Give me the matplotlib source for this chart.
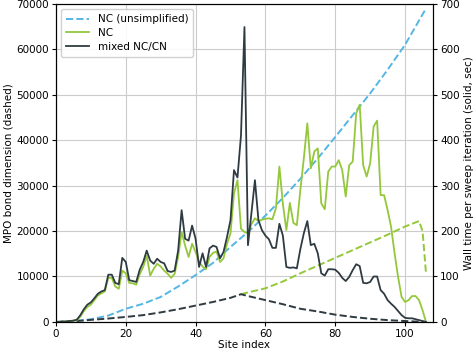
import matplotlib
matplotlib.use("Agg")
import matplotlib.pyplot as plt
import numpy as np

# --- data ---
sites = list(range(0, 107))
nc_time = [0, 0, 1, 1, 2, 2, 4, 12, 24, 33, 38, 48, 58, 63, 67, 97, 97, 78, 73, 113,
           107, 86, 85, 82, 105, 121, 146, 102, 117, 128, 122, 113, 106, 97, 106, 143,
           198, 168, 143, 172, 154, 132, 122, 116, 143, 152, 155, 132, 140, 172, 195,
           283, 312, 205, 198, 195, 215, 228, 222, 225, 227, 228, 226, 250, 342, 260,
           202, 262, 218, 213, 290, 360, 437, 338, 375, 382, 261, 248, 331, 342, 342,
           356, 334, 276, 345, 353, 459, 478, 345, 320, 349, 430, 443, 279, 279, 246,
           209, 151, 99, 55, 44, 48, 57, 57, 48, 26, 0]
mixed_time = [0, 0, 1, 1, 2, 3, 5, 15, 28, 38, 43, 52, 62, 67, 70, 104, 104, 86, 83, 141,
              132, 92, 90, 88, 115, 132, 157, 135, 128, 139, 132, 129, 112, 110, 113, 157,
              246, 183, 179, 212, 183, 121, 151, 121, 162, 168, 165, 140, 154, 187, 224,
              334, 318, 410, 649, 169, 240, 312, 224, 202, 190, 182, 163, 163, 216, 190,
              121, 119, 120, 118, 160, 195, 222, 169, 172, 151, 107, 102, 116, 116, 115,
              108, 97, 90, 99, 114, 127, 123, 86, 85, 88, 100, 100, 70, 62, 48,
              40, 33, 24, 15, 9, 8, 8, 6, 4, 2, 0]

unsimp_sites = [0, 5, 10, 15, 20, 25, 30, 35, 40, 45, 50, 55, 60, 65, 70, 75, 80, 85, 90, 95, 100, 106]
unsimp_dim = [0, 150, 600, 1400, 2900, 4000, 5500, 7800, 10300, 13000, 16500, 19800, 23400,
              27300, 31500, 36000, 40700, 45500, 50300, 55500, 61000, 69000]

nc_dim_sites = [53, 55, 60, 65, 70, 75, 80, 85, 90, 95, 100, 104, 105, 106]
nc_dim = [6100, 6500, 7400, 8900, 10700, 12400, 14100, 15800, 17500, 19200, 21000, 22200, 20000, 10700]

mixed_dim_sites = [0, 5, 10, 15, 20, 25, 30, 35, 40, 45, 50, 53, 55, 60, 65, 70, 75, 80, 85, 90, 95, 100, 104, 106]
mixed_dim = [0, 150, 450, 750, 1100, 1500, 2100, 2800, 3600, 4400, 5300, 6100, 5700, 4800, 3900,
             2900, 2300, 1600, 1100, 700, 400, 200, 50, 0]

C_BLUE = "#55b6e3"
C_GREEN = "#94c83a"
C_DARK = "#2f3b42"

plt.rcParams['font.family'] = ['DejaVu Sans']
fs = 7.5
fig = plt.figure(figsize=(4.74, 3.53), dpi=100)
ax = fig.add_axes([0.118, 0.088, 0.7955, 0.901])
ax2 = ax.twinx()

l1, = ax.plot(unsimp_sites, unsimp_dim, '--', color=C_BLUE, lw=1.4, label="NC (unsimplified)")
ax.plot(nc_dim_sites, nc_dim, '--', color=C_GREEN, lw=1.4)
ax.plot(mixed_dim_sites, mixed_dim, '--', color=C_DARK, lw=1.4)

l2, = ax2.plot(sites, nc_time, '-', color=C_GREEN, lw=1.3, label="NC")
l3, = ax2.plot(sites, mixed_time, '-', color=C_DARK, lw=1.3, label="mixed NC/CN")

ax.set_xlim(0, 108)
ax.set_ylim(0, 70000)
ax2.set_ylim(0, 700)
ax.set_xticks([0, 20, 40, 60, 80, 100])
ax.set_yticks(np.arange(0, 70001, 10000))
ax2.set_yticks(np.arange(0, 701, 100))
ax.grid(True, color="#cccccc", lw=0.8)
ax.set_axisbelow(True)

ax.set_xlabel("Site index", fontsize=fs, labelpad=1)
ax.set_ylabel("MPO bond dimension (dashed)", fontsize=fs, labelpad=2)
ax2.set_ylabel("Wall time per sweep iteration (solid, sec)", fontsize=fs, labelpad=3)
for a in (ax, ax2):
    a.tick_params(labelsize=fs, length=3, pad=2)

ax2.legend(handles=[l1, l2, l3], loc="upper left", fontsize=fs, framealpha=0.9,
           handlelength=2.2, borderpad=0.5, labelspacing=0.35)

fig.savefig("out.png", dpi=100)
